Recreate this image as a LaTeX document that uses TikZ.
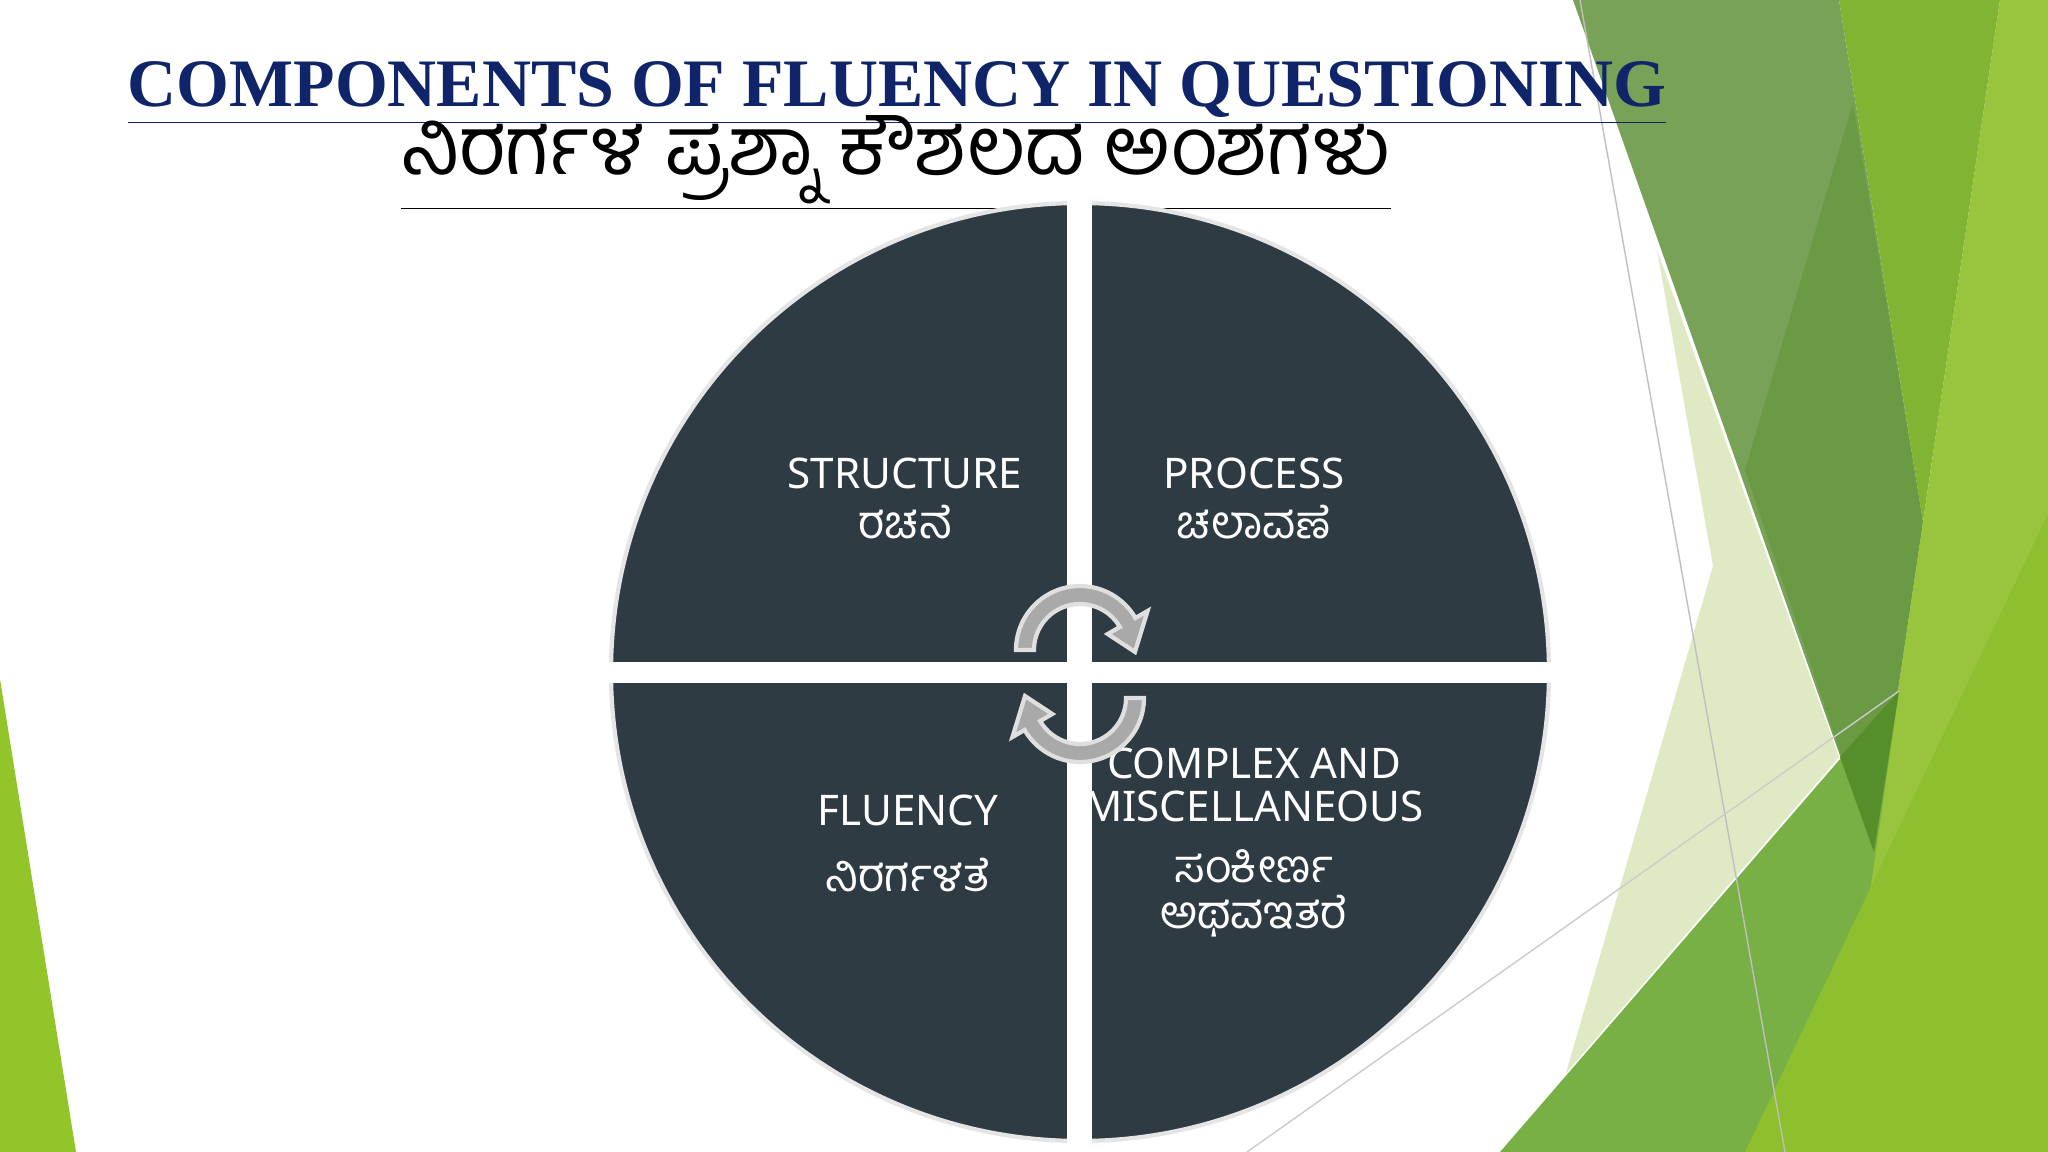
\documentclass[tikz,border=0pt]{standalone}
\usepackage{fontspec}
\setmainfont{Liberation Serif}
\newfontfamily\latsans{Noto Sans}
\newfontfamily\kan[Script=Kannada,Language=Kannada]{Hind Mysuru}
\definecolor{navy}{HTML}{0F2469}
\definecolor{slate}{HTML}{2E3B42}
\definecolor{olive}{HTML}{77A257}
\definecolor{oliveD}{HTML}{6A9A44}
\definecolor{ygreen}{HTML}{80B432}
\definecolor{lgreen}{HTML}{98C43E}
\definecolor{bgreen}{HTML}{8DBF2E}
\definecolor{mgreen}{HTML}{78B045}
\definecolor{dgreen}{HTML}{558E2A}
\definecolor{pale}{HTML}{DFEAC4}
\definecolor{arrowg}{HTML}{A9A9A9}
\begin{document}
\begin{tikzpicture}[x=0.01cm,y=-0.01cm,
  qtext/.style={text=white,font=\latsans\fontsize{12}{14}\selectfont,align=center},
  ktext/.style={text=white,font=\kan\fontsize{13}{15}\selectfont,align=center},
  cyc/.style={fill=arrowg,draw=gray!25,line width=1.2pt}]
\useasboundingbox (0,0) rectangle (2048,1152);
\fill[white] (0,0) rectangle (2048,1152);
% green decoration
\fill[pale] (1657,250) -- (1839,757) -- (1566,1073) -- (1713,566) -- cycle;
\fill[olive] (1573,0) -- (1839,0) -- (1923,522) -- (1874,852) -- cycle;
\fill[oliveD] (1745,470) -- (1853,103) -- (1923,522) -- (1874,852) -- cycle;
\fill[ygreen] (1839,0) -- (2000,0) -- (1923,522) -- cycle;
\fill[lgreen] (2000,0) -- (2048,0) -- (2048,1152) -- (1832,1152) -- (1874,852) -- (1923,522) -- cycle;
\fill[mgreen] (1500,1152) -- (1899,691) -- (1864,933) -- (1832,1152) -- cycle;
\fill[dgreen] (1840,757) -- (1899,691) -- (1874,852) -- cycle;
\fill[bgreen] (1745,1152) -- (2048,514) -- (2048,1152) -- cycle;
\draw[gray!50,line width=0.4pt] (1580,0) -- (1785,1152);
\draw[gray!40,line width=0.4pt] (1247,1152) -- (1899,691);
\fill[bgreen!90!lime] (0,679) -- (76,1152) -- (0,1152) -- cycle;
% titles
\node (title) at (897,93) {\textcolor{navy}{\fontsize{19.3}{23}\selectfont\bfseries\underline{COMPONENTS OF FLUENCY IN QUESTIONING}}};
\node (ktitle) at (896,163) {\kan\fontsize{23}{27}\selectfont\underline{ನಿರರ್ಗಳ ಪ್ರಶ್ನಾ ಕೌಶಲದ ಅಂಶಗಳು}};
% circle
\coordinate (ctr) at (1080,672);
\fill[slate,draw=gray!20,line width=1.2pt] (ctr) circle (469);
\fill[white] (1067,195) rectangle (1092,1150);
\fill[white] (605,662) rectangle (1555,683);
% labels
\node[qtext] (s) at (905,473) {STRUCTURE};
\node[ktext] (sk) at (905,522) {ರಚನೆ};
\node[qtext] (p) at (1254,473) {PROCESS};
\node[ktext] (pk) at (1254,522) {ಚಲಾವಣೆ};
\node[qtext] (f) at (908,810) {FLUENCY};
\node[ktext] (fk) at (908,875) {ನಿರರ್ಗಳತೆ};
\node[qtext] (c) at (1254,785) {COMPLEX AND\\[-2pt]MISCELLANEOUS};
\node[ktext] (ck) at (1254,893) {ಸಂಕೀರ್ಣ\\[-2pt]ಅಥವಇತರೆ};
% cycle arrows
\begin{scope}[shift={(1080,650)}]
\path[cyc] (180:64) arc (180:330:64) -- (330:78) -- (2:55) -- (330:32) -- (330:46) arc (330:180:46) -- cycle;
\end{scope}
\begin{scope}[shift={(1080,698)}]
\path[cyc] (0:64) arc (0:150:64) -- (150:78) -- (182:55) -- (150:32) -- (150:46) arc (150:0:46) -- cycle;
\end{scope}
\end{tikzpicture}
\end{document}
